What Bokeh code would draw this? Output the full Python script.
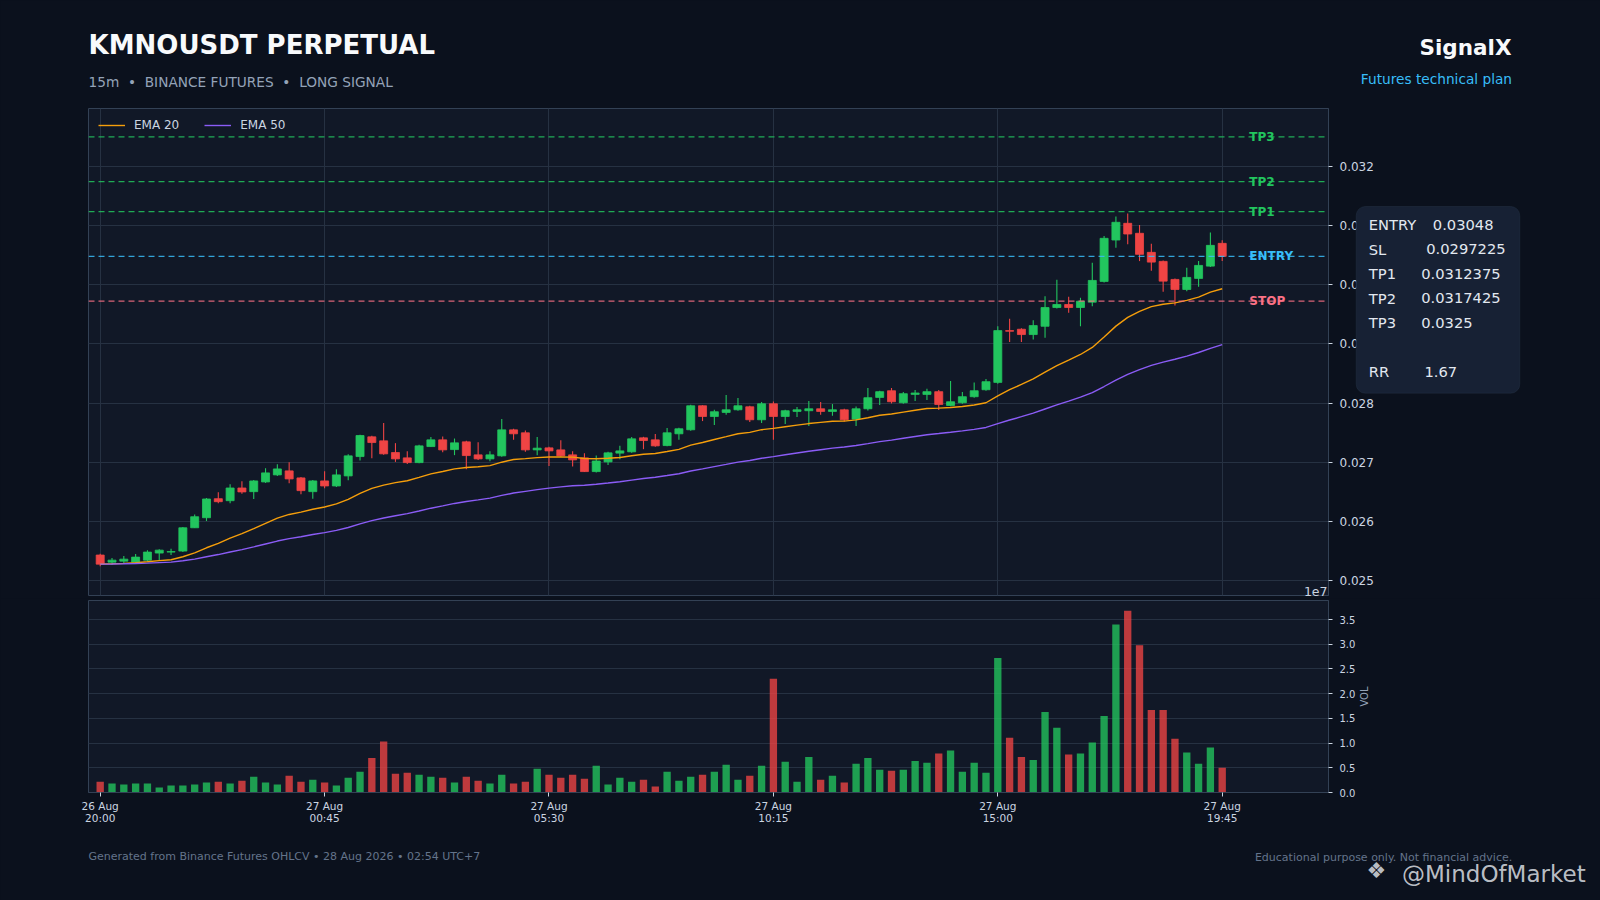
import math
import pandas as pd
from bokeh.plotting import figure
from bokeh.layouts import column
from bokeh.models import (Range1d, FixedTicker, PrintfTickFormatter, Span, BoxAnnotation, GridBox,
                          Legend, LegendItem, ColumnDataSource, Grid, GlobalInlineStyleSheet)
from bokeh.embed import file_html
from bokeh.resources import INLINE
from bokeh.core.properties import value

# ---------------- data ----------------
opens = [0.02543, 0.02531, 0.025327, 0.02531, 0.025344, 0.025463, 0.02548, 0.025497, 0.025891, 0.026061,
         0.026383, 0.026349, 0.026564, 0.026502, 0.026666, 0.026785, 0.026853, 0.026734, 0.026502, 0.026683,
         0.026598, 0.026768, 0.027095, 0.027429, 0.027361, 0.027163, 0.027073, 0.026993, 0.027264, 0.027378,
         0.027213, 0.027344, 0.027124, 0.027056, 0.027107, 0.027547, 0.027497, 0.027208, 0.027242, 0.027208,
         0.027124, 0.027073, 0.026841, 0.027005, 0.027153, 0.027175, 0.027412, 0.027378, 0.027281, 0.02748,
         0.027548, 0.027954, 0.027773, 0.027841, 0.027886, 0.027937, 0.027717, 0.027988, 0.027773, 0.027858,
         0.02787, 0.027903, 0.027858, 0.027886, 0.027729, 0.027903, 0.028095, 0.028208, 0.028005, 0.028146,
         0.028146, 0.028192, 0.027959, 0.028005, 0.028107, 0.028225, 0.028349, 0.029225, 0.029248, 0.029158,
         0.029298, 0.029615, 0.029666, 0.029615, 0.029705, 0.030056, 0.030756, 0.031039, 0.03087, 0.030548,
         0.030395, 0.03009, 0.02992, 0.030107, 0.030315, 0.0307]
highs = [0.02545, 0.025378, 0.025412, 0.025446, 0.025513, 0.02553, 0.025535, 0.025903, 0.026115, 0.026395,
         0.026491, 0.026627, 0.026678, 0.0267, 0.026898, 0.026966, 0.027, 0.026751, 0.0267, 0.026847,
         0.026881, 0.027136, 0.027463, 0.027446, 0.027661, 0.027322, 0.027186, 0.027293, 0.027424, 0.027434,
         0.0274, 0.027361, 0.027339, 0.027186, 0.027729, 0.027564, 0.027536, 0.027424, 0.027259, 0.027373,
         0.027186, 0.027153, 0.027112, 0.027175, 0.027276, 0.027424, 0.027429, 0.027475, 0.027576, 0.027581,
         0.027971, 0.027963, 0.027886, 0.028136, 0.028085, 0.027954, 0.028017, 0.028027, 0.027886, 0.027932,
         0.028034, 0.028017, 0.027983, 0.027903, 0.027942, 0.028254, 0.028208, 0.028254, 0.028186, 0.02822,
         0.028242, 0.02822, 0.028373, 0.028186, 0.028349, 0.028407, 0.029298, 0.029424, 0.029264, 0.0294,
         0.029807, 0.030085, 0.029797, 0.02978, 0.030373, 0.030824, 0.031153, 0.031204, 0.03101, 0.030695,
         0.030412, 0.030107, 0.030288, 0.0304, 0.030882, 0.030751]
lows = [0.025242, 0.02526, 0.025293, 0.025293, 0.025327, 0.025344, 0.025429, 0.02548, 0.025886, 0.026005,
        0.026305, 0.026305, 0.026468, 0.026378, 0.026649, 0.026768, 0.026644, 0.026458, 0.026383, 0.026559,
        0.026581, 0.026695, 0.027027, 0.027068, 0.027124, 0.027005, 0.026971, 0.02698, 0.027259, 0.02717,
        0.027119, 0.026881, 0.027039, 0.027017, 0.02709, 0.027378, 0.027175, 0.027119, 0.026937, 0.02709,
        0.026925, 0.026836, 0.026827, 0.026954, 0.027051, 0.027158, 0.02722, 0.027259, 0.027268, 0.027378,
        0.027531, 0.027695, 0.027627, 0.027802, 0.02787, 0.027678, 0.027661, 0.027378, 0.027644, 0.027763,
        0.02761, 0.027802, 0.027785, 0.027688, 0.02761, 0.027875, 0.027966, 0.027993, 0.027988, 0.028034,
        0.028051, 0.027881, 0.027946, 0.027988, 0.02809, 0.028208, 0.028327, 0.029034, 0.029034, 0.029073,
        0.029102, 0.029598, 0.029526, 0.029298, 0.029637, 0.030039, 0.030627, 0.030683, 0.0304, 0.030237,
        0.029881, 0.029649, 0.029892, 0.029966, 0.030302, 0.0304]
closes = [0.025276, 0.025344, 0.025361, 0.025395, 0.02548, 0.025513, 0.025488, 0.025891, 0.026078, 0.026378,
          0.026332, 0.026564, 0.026497, 0.026683, 0.026819, 0.026886, 0.026717, 0.026519, 0.026683, 0.026598,
          0.026785, 0.027107, 0.027451, 0.027332, 0.027141, 0.027056, 0.026993, 0.027276, 0.027378, 0.027208,
          0.027327, 0.027112, 0.027056, 0.027124, 0.027547, 0.02748, 0.027208, 0.027237, 0.027191, 0.027107,
          0.027039, 0.026841, 0.02702, 0.027158, 0.027191, 0.027395, 0.027366, 0.027276, 0.027497, 0.027565,
          0.027954, 0.027773, 0.027853, 0.027886, 0.027954, 0.027717, 0.027988, 0.027773, 0.02787, 0.027886,
          0.027903, 0.027858, 0.027886, 0.027717, 0.027903, 0.02809, 0.028192, 0.028022, 0.028158, 0.02817,
          0.028192, 0.027976, 0.028022, 0.028107, 0.028208, 0.028361, 0.029225, 0.029214, 0.029158, 0.02931,
          0.029615, 0.029666, 0.029615, 0.029722, 0.030073, 0.030785, 0.031056, 0.030858, 0.030514, 0.030383,
          0.030061, 0.02992, 0.030124, 0.030327, 0.030666, 0.03048]
volumes_1e7 = [0.22, 0.18, 0.16, 0.18, 0.18, 0.10, 0.14, 0.14, 0.16, 0.20,
               0.22, 0.18, 0.24, 0.32, 0.20, 0.16, 0.34, 0.22, 0.26, 0.20,
               0.14, 0.30, 0.42, 0.70, 1.03, 0.38, 0.40, 0.36, 0.32, 0.30,
               0.20, 0.32, 0.24, 0.18, 0.36, 0.18, 0.22, 0.48, 0.36, 0.30,
               0.36, 0.28, 0.54, 0.16, 0.30, 0.22, 0.26, 0.12, 0.42, 0.24,
               0.32, 0.36, 0.42, 0.56, 0.26, 0.34, 0.54, 2.30, 0.62, 0.22,
               0.72, 0.26, 0.34, 0.20, 0.58, 0.70, 0.46, 0.44, 0.46, 0.64,
               0.60, 0.79, 0.85, 0.42, 0.60, 0.40, 2.72, 1.11, 0.72, 0.66,
               1.63, 1.31, 0.77, 0.79, 1.01, 1.55, 3.40, 3.68, 2.98, 1.67,
               1.67, 1.09, 0.81, 0.58, 0.91, 0.50]
tick_positions = [0, 19, 38, 57, 76, 95]
tick_labels = ["26 Aug\n20:00", "27 Aug\n00:45", "27 Aug\n05:30", "27 Aug\n10:15", "27 Aug\n15:00", "27 Aug\n19:45"]
price_ticks = [0.025, 0.026, 0.027, 0.028, 0.029, 0.030, 0.031, 0.032]
vol_ticks = [0.0, 0.5, 1.0, 1.5, 2.0, 2.5, 3.0, 3.5]
level_names = ["TP3", "TP2", "TP1", "ENTRY", "STOP"]
level_values = [0.0325, 0.0317425, 0.0312375, 0.03048, 0.0297225]
plan_labels = ["ENTRY", "SL", "TP1", "TP2", "TP3", "RR"]
plan_values = ["0.03048", "0.0297225", "0.0312375", "0.0317425", "0.0325", "1.67"]

# ---------------- style ----------------
PAGE = "#0b111d"
PANEL = "#111827"
GRID = "#263142"
FRAME = "#334155"
TXT = "#cbd5e1"
UP = "#22c55e"
DOWN = "#ef4444"
FONT = "DejaVu Sans"
level_colors = ["#22c55e", "#22c55e", "#22c55e", "#38bdf8", "#fb7185"]
NB = "\u00a0"

idx = list(range(len(closes)))
colors = [UP if c >= o else DOWN for o, c in zip(opens, closes)]
ema20 = pd.Series(closes).ewm(span=20, adjust=False).mean().tolist()
ema50 = pd.Series(closes).ewm(span=50, adjust=False).mean().tolist()

src = ColumnDataSource(dict(x=idx, o=opens, h=highs, l=lows, c=closes,
                            top=[max(a, b) for a, b in zip(opens, closes)],
                            bot=[min(a, b) for a, b in zip(opens, closes)],
                            color=colors, vol=volumes_1e7, e20=ema20, e50=ema50))

xr = Range1d(-0.99, 104.0)


def style_axis(ax, size):
    ax.major_label_text_font = FONT
    ax.major_label_text_font_size = size
    ax.major_label_text_color = TXT
    ax.major_tick_line_color = TXT
    ax.major_tick_out = 4
    ax.major_tick_in = 0
    ax.minor_tick_line_color = None
    ax.axis_line_color = FRAME


# ---------------- price panel ----------------
p1 = figure(width=1600, height=598, x_range=xr, y_range=Range1d(0.024746, 0.03298),
            output_backend="svg", toolbar_location=None, x_axis_location=None, y_axis_location="right",
            min_border_left=88, min_border_right=272, min_border_top=108, min_border_bottom=3,
            background_fill_color=PANEL, border_fill_color=PAGE, outline_line_color=FRAME)

ya = p1.yaxis[0]
ya.ticker = FixedTicker(ticks=price_ticks)
ya.formatter = PrintfTickFormatter(format="%.3f")
style_axis(ya, "12px")
ya.major_label_standoff = 7
p1.ygrid.grid_line_color = GRID
p1.xgrid.grid_line_color = None
p1.add_layout(Grid(dimension=0, ticker=FixedTicker(ticks=tick_positions), grid_line_color=GRID))

for lv, col in zip(level_values, level_colors):
    p1.add_layout(Span(location=lv, dimension="width", line_color=col, line_dash="6 4",
                       line_width=1.2, line_alpha=0.85))

p1.segment(x0="x", x1="x", y0="l", y1="h", source=src, line_color="color", line_width=1.1)
p1.vbar(x="x", width=0.68, top="top", bottom="bot", source=src, fill_color="color",
        line_color="color", line_width=0.8)
r20 = p1.line("x", "e20", source=src, line_color="#f59e0b", line_width=1.4)
r50 = p1.line("x", "e50", source=src, line_color="#8b5cf6", line_width=1.4)

p1.text(x=[97.3] * len(level_names), y=level_values, text=level_names, text_color=level_colors,
        text_font=value(FONT), text_font_style="bold", text_font_size="12px",
        text_baseline="middle", text_align="left")

legend = Legend(items=[LegendItem(label="EMA 20", renderers=[r20]),
                       LegendItem(label="EMA 50", renderers=[r50])],
                location="top_left", orientation="horizontal", background_fill_alpha=0,
                border_line_alpha=0, label_text_color=TXT, label_text_font=FONT,
                label_text_font_size="12px", glyph_width=27, glyph_height=14, label_height=14,
                label_standoff=9, spacing=25, padding=10, margin=0)
p1.add_layout(legend)

# ---------------- volume panel ----------------
p2 = figure(width=1600, height=302, x_range=xr, y_range=Range1d(0, 3.886),
            output_backend="svg", toolbar_location=None, y_axis_location="right",
            min_border_left=88, min_border_right=272, min_border_top=2, min_border_bottom=108,
            background_fill_color=PANEL, border_fill_color=PAGE, outline_line_color=FRAME)
p2.vbar(x="x", width=0.62, top="vol", bottom=0, source=src, fill_color="color", fill_alpha=0.78,
        line_color=None)
p2.xgrid.grid_line_color = None
p2.ygrid.grid_line_color = GRID

xa = p2.xaxis[0]
xa.ticker = FixedTicker(ticks=tick_positions)
xa.major_label_overrides = {t: s for t, s in zip(tick_positions, tick_labels)}
style_axis(xa, "10.5px")
xa.major_label_text_line_height = 1.05
xa.major_label_standoff = 3

va = p2.yaxis[0]
va.ticker = FixedTicker(ticks=vol_ticks)
va.formatter = PrintfTickFormatter(format="%.1f")
style_axis(va, "10px")
va.major_label_standoff = 7

# ---------------- overlay (titles, plan box, footers) in page pixels ----------------
ov = figure(width=1600, height=900, x_range=Range1d(0, 1600), y_range=Range1d(900, 0),
            output_backend="svg", toolbar_location=None, x_axis_location=None, y_axis_location=None,
            min_border=0, background_fill_alpha=0, border_fill_alpha=0, outline_line_color=None)
ov.xgrid.visible = False
ov.ygrid.visible = False


def otext(x, y, s, size, color, bold=False, align="left", angle=0.0, alpha=1.0):
    ov.text(x=[x], y=[y], text=[s], text_font=value(FONT), text_font_size=size,
            text_font_style="bold" if bold else "normal", text_color=color, text_align=align,
            text_baseline="middle", angle=angle, text_alpha=alpha)


sep = NB * 2 + "\u2022" + NB * 2
otext(88, 44.5, "KMNOUSDT PERPETUAL", "26px", "#f8fafc", bold=True)
otext(88, 81, "15m" + sep + "BINANCE FUTURES" + sep + "LONG SIGNAL", "13.7px", "#94a3b8")
otext(1511, 46.5, "SignalX", "21.5px", "#f8fafc", bold=True, align="right")
otext(1511.5, 78, "Futures technical plan", "13.7px", "#38bdf8", align="right")
otext(1327, 591.3, "1e7", "12.5px", TXT, align="right")
otext(1364, 696, "VOL", "10px", "#94a3b8", align="center", angle=math.pi / 2)

ov.add_layout(BoxAnnotation(left=1355.7, right=1519.3, top=206, bottom=392.7, fill_color="#172134",
                            fill_alpha=1.0, line_color="#334155", line_width=1, border_radius=9,
                            level="underlay"))
row_y = [224.3, 248.8, 273.3, 297.8, 322.3, 371.3]
val_x = [1432.3, 1425.7, 1420.7, 1420.7, 1420.7, 1424.0]
for name, val, yy, vx in zip(plan_labels, plan_values, row_y, val_x):
    otext(1368.3, yy, name, "14.7px", "#e2e8f0")
    otext(vx, yy, val, "14.7px", "#e2e8f0")

otext(88, 856, "Generated from Binance Futures OHLCV \u2022 28 Aug 2026 \u2022 02:54 UTC+7", "11px",
      "#64748b")
otext(1511.7, 856.5, "Educational purpose only. Not financial advice.", "11px", "#64748b", align="right")
otext(1366, 870, "\u2756", "22px", "#d1d5db", alpha=0.9)
otext(1401.5, 873, "@MindOfMarket", "23px", "#d1d5db", alpha=0.9)

charts = column(p1, p2)
layout = GridBox(children=[(charts, 0, 0), (ov, 0, 0)],
                 stylesheets=[GlobalInlineStyleSheet(css="html, body { background: %s; }" % PAGE)])

open("out.html", "w").write(file_html(layout, INLINE, title="KMNOUSDT PERPETUAL"))
